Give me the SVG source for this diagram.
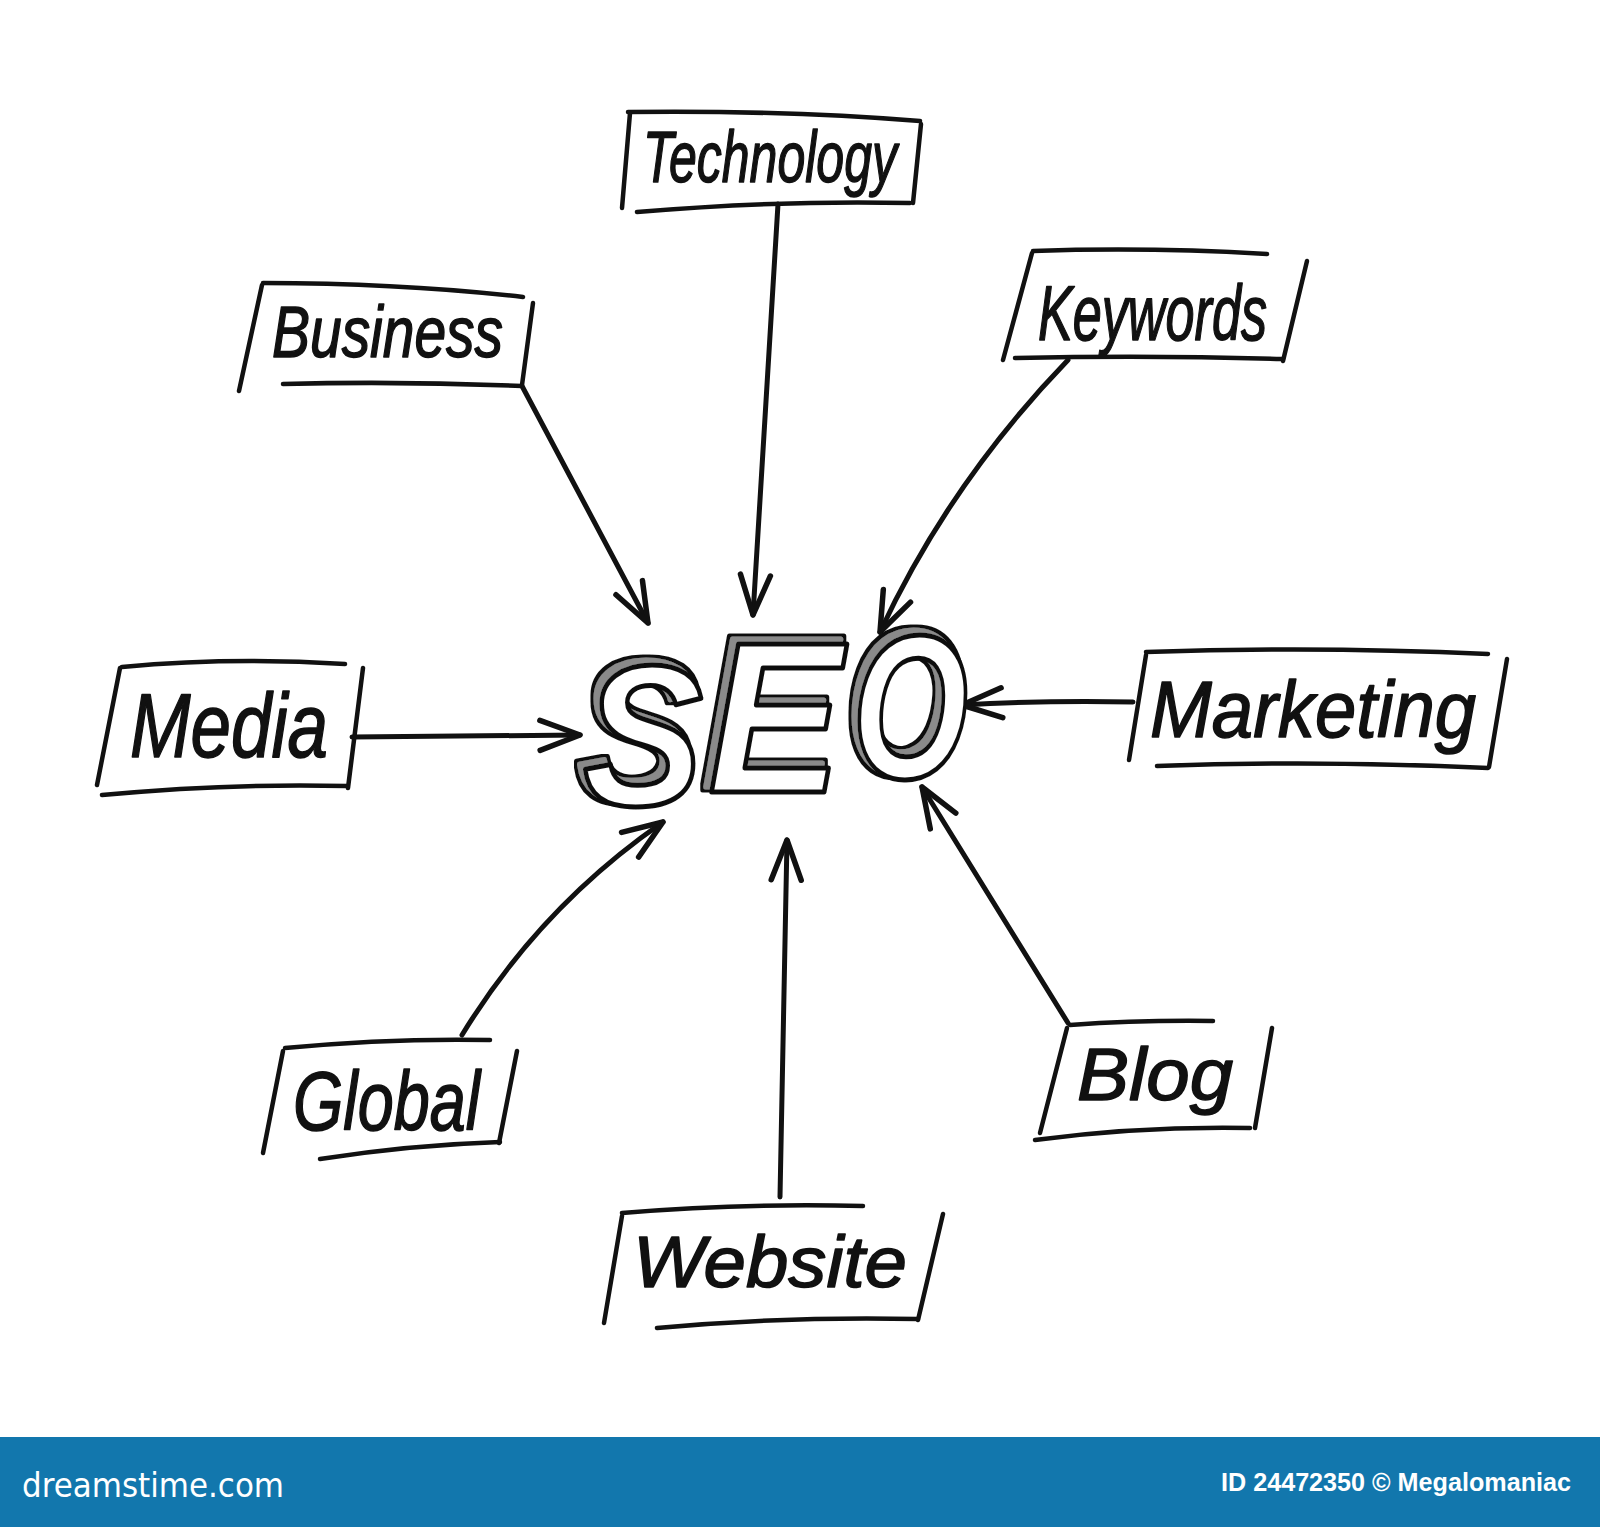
<svg xmlns="http://www.w3.org/2000/svg" width="1600" height="1527" viewBox="0 0 1600 1527">
<defs>
<style>
.bx{fill:none;stroke:#111;stroke-width:4.5;stroke-linecap:round}
.cn{fill:none;stroke:#111;stroke-width:5;stroke-linecap:round}
.hw{font-family:"Liberation Sans","DejaVu Sans",sans-serif;font-style:italic;fill:#111;stroke:#111;stroke-width:1.5;stroke-linejoin:round}
.seo{font-family:"Liberation Sans","DejaVu Sans",sans-serif;font-style:italic;font-weight:bold;fill:#fff;stroke:#111;stroke-width:5;stroke-linejoin:round;filter:url(#ext)}
</style>
<filter id="ext" x="-20%" y="-20%" width="140%" height="140%">
<feOffset in="SourceAlpha" dx="-6" dy="-5" result="o"/>
<feMorphology in="o" operator="dilate" radius="2.5" result="od"/>
<feFlood flood-color="#111" result="bk"/>
<feComposite in="bk" in2="od" operator="in" result="edge"/>
<feFlood flood-color="#8a8a8a" result="gr"/>
<feComposite in="gr" in2="o" operator="in" result="grey"/>
<feMerge><feMergeNode in="edge"/><feMergeNode in="grey"/><feMergeNode in="SourceGraphic"/></feMerge>
</filter>
<marker id="arr" markerUnits="userSpaceOnUse" markerWidth="60" markerHeight="40" viewBox="-46 -20 52 40" refX="0" refY="0" orient="auto">
<path d="M-40,-15 L0,0 L-40,15" fill="none" stroke="#111" stroke-width="5.5" stroke-linecap="round" stroke-linejoin="round"/>
</marker>
</defs>
<rect width="1600" height="1527" fill="#fff"/>

<g id="connectors">
<path class="cn" d="M522,386 L648,623" marker-end="url(#arr)"/>
<path class="cn" d="M778,204 L753,615" marker-end="url(#arr)"/>
<path class="cn" d="M1068,360 Q950,482 880,632" marker-end="url(#arr)"/>
<path class="cn" d="M352,737 L580,735" marker-end="url(#arr)"/>
<path class="cn" d="M1133,702 Q1050,700 962,705" marker-end="url(#arr)"/>
<path class="cn" d="M462,1035 Q540,907 663,822" marker-end="url(#arr)"/>
<path class="cn" d="M780,1197 L787,840" marker-end="url(#arr)"/>
<path class="cn" d="M1068,1023 L922,787" marker-end="url(#arr)"/>
</g>

<g id="seo">
<text class="seo" x="583" y="805" font-size="200" textLength="120" lengthAdjust="spacingAndGlyphs">S</text>
<text class="seo" x="708" y="792" font-size="215" textLength="134" lengthAdjust="spacingAndGlyphs">E</text>
<text class="seo" x="852" y="778" font-size="205" textLength="116" lengthAdjust="spacingAndGlyphs">O</text>
</g>

<g id="technology">
<path class="bx" d="M628,112 Q780,110 920,121"/>
<path class="bx" d="M630,113 L622,208"/>
<path class="bx" d="M637,212 Q780,200 910,203"/>
<path class="bx" d="M921,124 L913,203"/>
<text class="hw" x="643" y="182" font-size="72" textLength="254" lengthAdjust="spacingAndGlyphs">Technology</text>
</g>

<g id="business">
<path class="bx" d="M263,283 Q400,283 523,297"/>
<path class="bx" d="M262,285 L239,391"/>
<path class="bx" d="M283,384 Q400,381 522,386"/>
<path class="bx" d="M533,303 L522,385"/>
<text class="hw" x="272" y="357" font-size="72" textLength="231" lengthAdjust="spacingAndGlyphs">Business</text>
</g>

<g id="keywords">
<path class="bx" d="M1033,251 Q1150,247 1267,254"/>
<path class="bx" d="M1032,253 L1003,360"/>
<path class="bx" d="M1015,358 Q1150,355 1283,359"/>
<path class="bx" d="M1307,261 L1283,361"/>
<text class="hw" x="1038" y="340" font-size="78" textLength="229" lengthAdjust="spacingAndGlyphs">Keywords</text>
</g>

<g id="media">
<path class="bx" d="M122,667 Q230,657 345,664"/>
<path class="bx" d="M120,668 L97,785"/>
<path class="bx" d="M102,795 Q230,783 347,786"/>
<path class="bx" d="M363,668 L348,788"/>
<text class="hw" x="130" y="757" font-size="90" textLength="198" lengthAdjust="spacingAndGlyphs">Media</text>
</g>

<g id="marketing">
<path class="bx" d="M1146,652 Q1320,646 1488,654"/>
<path class="bx" d="M1146,655 L1129,760"/>
<path class="bx" d="M1157,766 Q1320,760 1488,768"/>
<path class="bx" d="M1507,659 L1489,767"/>
<text class="hw" x="1150" y="737" font-size="80" textLength="326" lengthAdjust="spacingAndGlyphs">Marketing</text>
</g>

<g id="global">
<path class="bx" d="M285,1048 Q390,1038 490,1040"/>
<path class="bx" d="M283,1051 L263,1153"/>
<path class="bx" d="M320,1159 Q410,1145 500,1142"/>
<path class="bx" d="M517,1051 L499,1143"/>
<text class="hw" x="293" y="1130" font-size="84" textLength="187" lengthAdjust="spacingAndGlyphs">Global</text>
</g>

<g id="blog">
<path class="bx" d="M1070,1025 Q1140,1020 1213,1021"/>
<path class="bx" d="M1067,1028 L1040,1133"/>
<path class="bx" d="M1035,1140 Q1140,1126 1250,1128"/>
<path class="bx" d="M1272,1028 L1255,1128"/>
<text class="hw" x="1077" y="1100" font-size="74" textLength="156" lengthAdjust="spacingAndGlyphs">Blog</text>
</g>

<g id="website">
<path class="bx" d="M622,1213 Q740,1203 863,1206"/>
<path class="bx" d="M622,1216 L604,1323"/>
<path class="bx" d="M657,1328 Q790,1316 918,1319"/>
<path class="bx" d="M943,1214 L918,1320"/>
<text class="hw" x="633" y="1287" font-size="72" textLength="274" lengthAdjust="spacingAndGlyphs">Website</text>
</g>

<g id="banner">
<rect x="0" y="1437" width="1600" height="90" fill="#1277ad"/>
<text x="22" y="1497" font-family="'DejaVu Sans',sans-serif" font-size="33" fill="#fff" textLength="262" lengthAdjust="spacingAndGlyphs">dreamstime.com</text>
<text x="1221" y="1491" font-family="'Liberation Sans',Arial,sans-serif" font-size="25" font-weight="bold" fill="#fff" textLength="350" lengthAdjust="spacingAndGlyphs">ID 24472350 © Megalomaniac</text>
</g>
</svg>
